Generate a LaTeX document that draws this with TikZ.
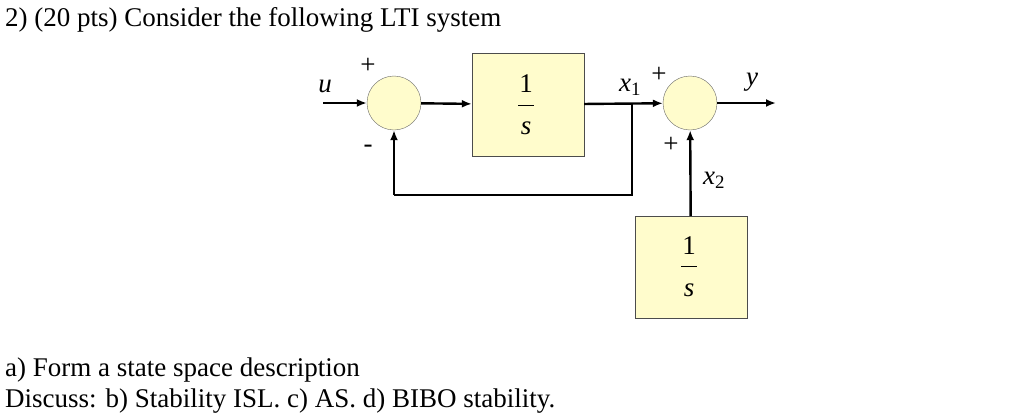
\documentclass[tikz,border=0pt]{standalone}
\usepackage{fontspec}
\setmainfont{Liberation Serif}
\usetikzlibrary{arrows.meta}
\begin{document}
\begin{tikzpicture}[x=1pt,y=-1pt,
  sum/.style={circle,draw=black!60,fill=yellow!20,minimum size=54pt,inner sep=0pt},
  blk/.style={rectangle,draw=black!70,fill=yellow!20,minimum width=112pt,inner sep=0pt},
  sig/.style={line width=2.4pt,-{Latex[length=10pt,width=8pt]}},
  wire/.style={line width=2.4pt},
  lab/.style={font=\fontsize{27}{27}\selectfont\itshape,inner sep=0pt},
  sgn/.style={font=\fontsize{27}{27}\selectfont,inner sep=0pt},
  txt/.style={font=\fontsize{27}{29}\selectfont,inner sep=0pt,anchor=base west},
  frac/.style={font=\fontsize{27}{27}\selectfont,inner sep=0pt,align=center}]
\useasboundingbox (0,0) rectangle (1024,415);
\node[sum] (s1) at (394,103) {};
\node[sum] (s2) at (690,103) {};
\node[blk,minimum height=103pt] (b1) at (528,104.5) {};
\node[blk,minimum height=102pt] (b2) at (691,267) {};
\node[frac] (n1) at (526,84) {1};
\node[frac] (d1) at (526,128) {\itshape s};
\draw[line width=0.8pt] (518,105) -- (534,105);
\node[frac] (n2) at (689,246) {1};
\node[frac] (d2) at (689,290) {\itshape s};
\draw[line width=0.8pt] (681,266) -- (697,266);
\coordinate (in) at (323,103);
\coordinate (out) at (776,103);
\coordinate (j) at (632,103);
\coordinate (fb1) at (632,195);
\coordinate (fb2) at (394,195);
\draw[sig] (in) -- (s1);
\draw[sig] (s1) -- (b1);
\draw[sig] (b1) -- (s2);
\draw[sig] (s2) -- (out);
\draw[wire] (j) -- (fb1) -- (fb2);
\draw[sig] (fb2) -- (s1);
\draw[sig] (b2) -- (s2);
\node[lab] (lu) at (325,86) {u};
\node[sgn] (p1) at (368,66) {+};
\node[sgn] (m1) at (368,149) {-};
\node[lab] (lx1) at (630,87) {x\textsubscript{\upshape 1}};
\node[sgn] (p2) at (659,75) {+};
\node[lab] (ly) at (752,82) {y};
\node[sgn] (p3) at (671,145) {+};
\node[lab] (lx2) at (714,180) {x\textsubscript{\upshape 2}};
\node[txt] (t1) at (5,27) {2) (20 pts) Consider the following LTI system};
\node[txt] (t2) at (5,376) {a) Form a state space description};
\node[txt] (t3) at (5,407) {Discuss: b) Stability ISL. c) AS. d) BIBO stability.};
\end{tikzpicture}
\end{document}
